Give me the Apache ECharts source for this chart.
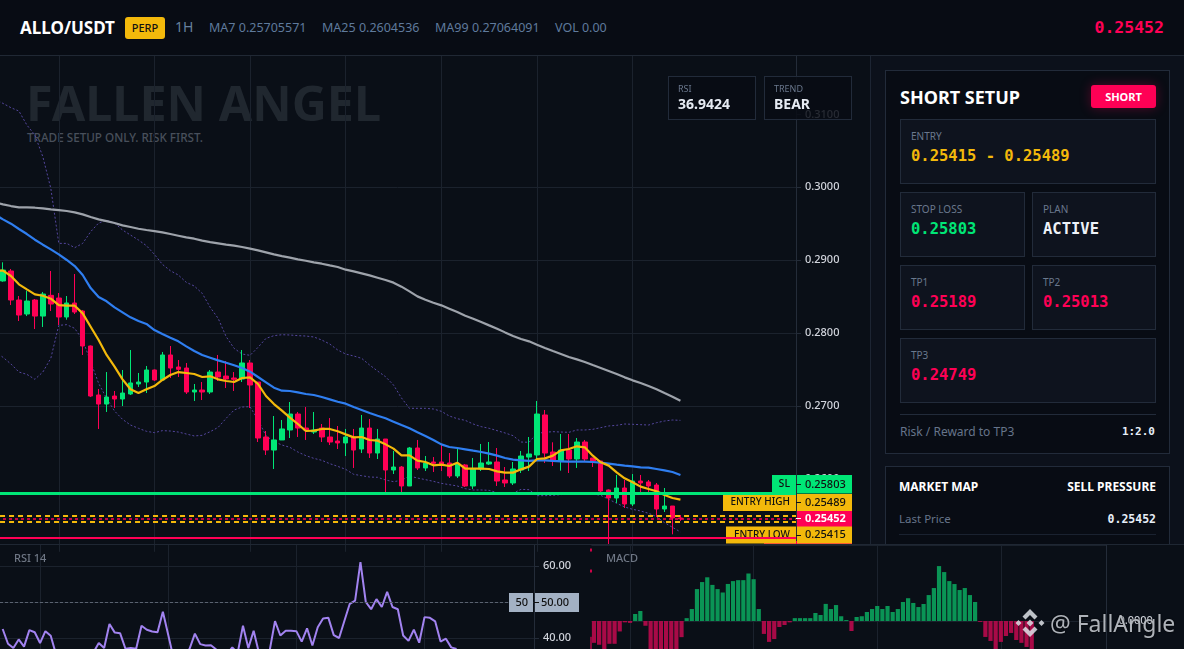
<!DOCTYPE html>
<html><head><meta charset="utf-8">
<script src="https://cdn.jsdelivr.net/npm/echarts@6/dist/echarts.min.js"></script>
<style>
*{box-sizing:border-box}
html,body{margin:0;padding:0;width:1184px;height:649px;overflow:hidden;background:#0a0f17;font-family:"Noto Sans",sans-serif}
.abs{position:absolute}
#chart{position:absolute;left:0;top:0;width:1184px;height:649px;z-index:2}
#wm{position:absolute;left:26px;top:68px;font-size:48.5px;font-weight:700;color:#20272f;z-index:1;line-height:68px;white-space:nowrap}
#wm2{position:absolute;left:27px;top:129px;font-size:11.7px;font-weight:500;color:#484f5b;z-index:1;white-space:nowrap;line-height:16px}
#top{position:absolute;left:0;top:0;width:1184px;height:56px;background:#080c14;border-bottom:1px solid #202834;z-index:3}
#top span{position:absolute;white-space:nowrap;line-height:20px}
#side{position:absolute;left:870px;top:56px;width:314px;height:488px;background:#0c111b;border-left:1px solid #1d2533;z-index:3;overflow:hidden}
.card{position:absolute;background:#0e131e;border:1px solid #222b3a}
.outer{position:absolute;left:14px;width:285px;background:#080c14;border:1px solid #222b3a}
.t{position:absolute;white-space:nowrap;line-height:16px}
.lbl{font-size:10px;color:#6a788d;left:10px;top:8px}
.val{font-family:"DejaVu Sans Mono",monospace;font-weight:700;font-size:15.5px;left:10px;top:27px;line-height:18px}
.stat{position:absolute;top:76px;width:88px;height:44px;background:rgba(8,12,20,.85);border:1px solid #222b3a;z-index:3}
#bw{position:absolute;left:1016px;top:608px;z-index:4;width:160px;height:34px}
</style></head><body>
<div id="wm">FALLEN ANGEL</div>
<div id="wm2">TRADE SETUP ONLY. RISK FIRST.</div>
<div id="chart"></div>
<div id="top">
<span style="left:20px;top:18px;font-size:17px;font-weight:700;color:#fff">ALLO/USDT</span>
<span style="left:125px;top:17px;width:40px;height:22px;background:#f3b90b;border-radius:3px;color:#111;font-size:11px;font-weight:500;text-align:center;line-height:22px">PERP</span>
<span style="left:175px;top:17px;font-size:14px;color:#66809c">1H</span>
<span style="left:209px;top:18px;font-size:12.5px;color:#5f7a9c">MA7 0.25705571</span>
<span style="left:322px;top:18px;font-size:12.5px;color:#5f7a9c">MA25 0.2604536</span>
<span style="left:435px;top:18px;font-size:12.5px;color:#5f7a9c">MA99 0.27064091</span>
<span style="left:555px;top:18px;font-size:12.5px;color:#5f7a9c">VOL 0.00</span>
<span style="right:20px;top:18px;font-size:16.5px;font-weight:700;color:#ff0055;font-family:'DejaVu Sans Mono',monospace">0.25452</span>
</div>
<div class="stat" style="left:668px"><span class="t" style="left:9px;top:4px;font-size:9px;color:#6a788d">RSI</span><span class="t" style="left:9px;top:19px;font-size:14px;font-weight:700;color:#e6ebf3">36.9424</span></div>
<div class="stat" style="left:764px"><span class="t" style="left:9px;top:4px;font-size:9px;color:#6a788d">TREND</span><span class="t" style="left:9px;top:19px;font-size:14px;font-weight:700;color:#e6ebf3">BEAR</span></div>
<div id="side">
 <div class="outer" style="top:14px;height:384px">
  <span class="t" style="left:14px;top:16px;font-size:18px;font-weight:700;color:#fff;line-height:20px">SHORT SETUP</span>
  <span class="t" style="left:205px;top:14px;width:65px;height:23px;background:#ff0055;border-radius:3px;color:#fff;font-size:11px;font-weight:700;text-align:center;line-height:23px;box-shadow:0 0 12px rgba(255,0,85,.3)">SHORT</span>
  <div class="card" style="left:14px;top:48px;width:256px;height:65px"><span class="t lbl">ENTRY</span><span class="t val" style="color:#f3b90b">0.25415 - 0.25489</span></div>
  <div class="card" style="left:14px;top:121px;width:125px;height:65px"><span class="t lbl">STOP LOSS</span><span class="t val" style="color:#00e676">0.25803</span></div>
  <div class="card" style="left:146px;top:121px;width:124px;height:65px"><span class="t lbl">PLAN</span><span class="t val" style="color:#eef2f8">ACTIVE</span></div>
  <div class="card" style="left:14px;top:194px;width:125px;height:65px"><span class="t lbl">TP1</span><span class="t val" style="color:#ff0055">0.25189</span></div>
  <div class="card" style="left:146px;top:194px;width:124px;height:65px"><span class="t lbl">TP2</span><span class="t val" style="color:#ff0055">0.25013</span></div>
  <div class="card" style="left:14px;top:267px;width:256px;height:65px"><span class="t lbl">TP3</span><span class="t val" style="color:#ff0055">0.24749</span></div>
  <div class="abs" style="left:14px;top:343px;width:256px;height:1px;background:#222b3a"></div>
  <span class="t" style="left:14px;top:353px;font-size:12px;color:#66748a">Risk / Reward to TP3</span>
  <span class="t" style="right:14px;top:353px;font-size:11px;font-weight:700;color:#e6eef8;font-family:'DejaVu Sans Mono',monospace">1:2.0</span>
 </div>
 <div class="outer" style="top:410px;height:120px">
  <span class="t" style="left:13px;top:12px;font-size:12px;font-weight:700;color:#fff">MARKET MAP</span>
  <span class="t" style="right:13px;top:12px;font-size:12px;font-weight:700;color:#fff">SELL PRESSURE</span>
  <span class="t" style="left:13px;top:44px;font-size:11.5px;color:#66748a">Last Price</span>
  <span class="t" style="right:13px;top:44px;font-size:11.5px;font-weight:700;color:#e6eef8;font-family:'DejaVu Sans Mono',monospace">0.25452</span>
  <div class="abs" style="left:13px;top:67px;width:257px;height:1px;background:#1a2230"></div>
 </div>
</div>
<div id="bw">
<svg width="28" height="28" viewBox="0 0 28 28" style="position:absolute;left:0;top:1px;opacity:.85;overflow:visible" fill="#dfe2e8">
<path d="M14 0l7.5 7.5-3 3L14 6l-4.5 4.5-3-3z"/><path d="M14 28l7.5-7.5-3-3L14 22l-4.5-4.5-3 3z"/>
<path d="M2.5 11l3 3-3 3-3-3z"/><path d="M25.5 11l3 3-3 3-3-3z"/><path d="M14 10.5l3.5 3.5-3.5 3.5-3.5-3.5z"/>
</svg>
<span style="position:absolute;left:34px;top:-1px;font-size:23px;color:rgba(205,209,216,.85);line-height:32px;white-space:nowrap;text-shadow:0 0 2px #000">@ FallAngle</span>
</div>
<script>
const priceSlots = 101, paneSlots = 100;
const candleOHLC = [
['-','-','-','-'],
[.28715,.28865,.28705,.28971],[.28852,.28454,.28385,.28879],[.28454,.28248,.28166,.28509],[.28262,.28440,.28234,.28582],
[.28454,.28234,.28056,.28468],[.28234,.28536,.28084,.28564],[.28518,.28399,.28303,.28852],[.28481,.28221,.28111,.28550],
[.28221,.28413,.28184,.28509],[.28413,.28289,.28262,.28811],[.28303,.27823,.27700,.28317],[.27823,.27137,.27123,.27830],
[.27151,.27027,.26685,.27233],[.27027,.27123,.26918,.27466],[.27137,.27096,.26973,.27206],[.27096,.27178,.27000,.27494],
[.27165,.27316,.27151,.27768],[.27302,.27329,.27261,.27453],[.27329,.27494,.27178,.27549],[.27494,.27357,.27343,.27500],
[.27357,.27700,.27343,.27741],[.27700,.27521,.27384,.27823],[.27535,.27503,.27398,.27631],[.27521,.27192,.27165,.27590],
[.27192,.27219,.27069,.27302],[.27219,.27192,.27082,.27329],[.27192,.27466,.27165,.27494],[.27466,.27398,.27343,.27700],
[.27411,.27370,.27247,.27617],[.27384,.27366,.27206,.27466],[.27370,.27590,.27329,.27768],[.27590,.27288,.26973,.27631],
[.27329,.26561,.26506,.27329],[.26575,.26396,.26328,.26657],[.26396,.26534,.26136,.26863],[.26534,.26685,.26534,.26808],
[.26671,.26890,.26561,.27055],[.26890,.26698,.26575,.26918],[.26698,.26671,.26534,.26986],[.26643,.26671,.26616,.26918],
[.26698,.26575,.26506,.26753],[.26575,.26506,.26465,.26835],[.26520,.26493,.26410,.26726],[.26493,.26575,.26314,.26685],
[.26575,.26396,.26150,.26685],[.26410,.26698,.26355,.26877],[.26698,.26355,.26287,.26822],[.26355,.26547,.26273,.26685],
[.26547,.26122,.25820,.26547],[.26122,.26163,.26067,.26383],[.26163,.25903,.25807,.26177],[.25903,.26424,.25903,.26438],
[.26424,.26150,.26122,.26534],[.26150,.26218,.26108,.26314],[.26232,.26214,.26095,.26300],[.26232,.26191,.26108,.26479],
[.26218,.26040,.26012,.26355],[.26040,.26204,.26012,.26410],[.26191,.25903,.25889,.26204],[.25903,.26136,.25862,.26287],
[.26136,.26218,.26108,.26479],[.26204,.26232,.26191,.26506],[.26232,.25971,.25903,.26424],[.25985,.25944,.25889,.26163],
[.25944,.26136,.25916,.26232],[.26122,.26314,.26081,.26383],[.26300,.26342,.26108,.26575],[.26328,.26890,.26259,.27069],
[.26877,.26355,.26218,.26945],[.26369,.26246,.26177,.26502],[.26246,.26396,.26113,.26616],[.26396,.26273,.26081,.26616],
[.26273,.26506,.26150,.26561],[.26506,.26273,.26246,.26534],[.26287,.26246,.26163,.26287],[.26246,.25834,.25779,.26246],
[.25848,.25738,.25107,.25857],[.25738,.25875,.25670,.26054],[.25875,.25656,.25601,.25985],[.25656,.25971,.25628,.26067],
[.25971,.25944,.25779,.26054],[.25958,.25903,.25779,.25985],[.25916,.25587,.25477,.25944],[.25587,.25628,.25546,.25875],
[.25628,.25464,.25240,.25628],[.25464,.25452,.25423,.25505]];
const ma7 = [.28860,.28856,.28783,.28669,.28600,.28532,.28513,.28472,.28385,.28376,.28376,.28271,.28088,.27905,.27700,.27540,.27366,.27229,.27178,.27229,.27274,.27357,.27425,.27466,.27453,.27439,.27398,.27407,.27366,.27343,.27329,.27384,.27393,.27302,.27137,.27027,.26936,.26840,.26753,.26657,.26662,.26685,.26685,.26653,.26611,.26570,.26575,.26534,.26525,.26474,.26415,.26323,.26323,.26250,.26232,.26186,.26195,.26177,.26223,.26140,.26140,.26140,.26136,.26104,.26086,.26086,.26131,.26168,.26273,.26282,.26319,.26392,.26410,.26447,.26433,.26319,.26227,.26182,.26090,.26008,.25953,.25894,.25862,.25830,.25779,.25738,.25715];
const ma25 = [.29625,.29560,.29501,.29428,.29359,.29281,.29213,.29149,.29080,.29003,.28920,.28797,.28618,.28495,.28436,.28353,.28285,.28216,.28166,.28125,.28042,.27988,.27937,.27887,.27818,.27754,.27700,.27663,.27626,.27594,.27558,.27521,.27471,.27398,.27325,.27251,.27210,.27206,.27187,.27165,.27151,.27123,.27091,.27059,.27032,.26986,.26945,.26904,.26867,.26831,.26785,.26739,.26694,.26639,.26589,.26534,.26474,.26438,.26424,.26406,.26387,.26369,.26346,.26319,.26287,.26264,.26255,.26246,.26255,.26255,.26246,.26241,.26236,.26236,.26236,.26232,.26223,.26209,.26195,.26182,.26172,.26159,.26154,.26136,.26118,.26095,.26054];
const ma99 = [.29790,.29766,.29743,.29725,.29725,.29720,.29711,.29697,.29688,.29675,.29656,.29629,.29592,.29560,.29537,.29510,.29478,.29455,.29432,.29414,.29400,.29382,.29359,.29336,.29313,.29295,.29268,.29249,.29231,.29213,.29199,.29181,.29158,.29135,.29108,.29080,.29057,.29035,.29012,.28993,.28971,.28952,.28929,.28907,.28870,.28847,.28820,.28792,.28760,.28728,.28692,.28637,.28573,.28504,.28458,.28417,.28381,.28335,.28289,.28239,.28198,.28152,.28106,.28061,.28010,.27960,.27919,.27887,.27841,.27796,.27754,.27713,.27672,.27640,.27604,.27562,.27521,.27480,.27439,.27393,.27352,.27315,.27274,.27229,.27178,.27128,.27073];
const bbUpper = [.31210,.31151,.31092,.31046,.30854,.30717,.30420,.29986,.29231,.29231,.29172,.29231,.29391,.29510,.29547,.29510,.29414,.29345,.29277,.29199,.29080,.28943,.28856,.28797,.28696,.28646,.28545,.28353,.28202,.27951,.27791,.27713,.27695,.27805,.27928,.27965,.27978,.27974,.27965,.27960,.27947,.27905,.27850,.27768,.27713,.27686,.27654,.27562,.27480,.27402,.27288,.27110,.26968,.26968,.26968,.26959,.26927,.26863,.26826,.26803,.26753,.26717,.26694,.26662,.26630,.26593,.26506,.26502,.26625,.26639,.26648,.26643,.26639,.26671,.26671,.26680,.26703,.26726,.26735,.26753,.26749,.26744,.26739,.26771,.26794,.26808,.26803];
const bbLower = [.27745,.27668,.27576,.27466,.27434,.27366,.27466,.27654,.28106,.28116,.28065,.27905,.27608,.27311,.27105,.26931,.26817,.26739,.26694,.26653,.26634,.26662,.26657,.26643,.26616,.26589,.26598,.26648,.26707,.26831,.26945,.26986,.26991,.26808,.26593,.26511,.26465,.26433,.26369,.26319,.26282,.26255,.26209,.26172,.26131,.26063,.26044,.26026,.26022,.25985,.25962,.25980,.26040,.26012,.25990,.25967,.25939,.25921,.25903,.25866,.25848,.25848,.25843,.25811,.25802,.25802,.25857,.25852,.25770,.25770,.25775,.25784,.25793,.25793,.25798,.25793,.25775,.25720,.25665,.25615,.25583,.25560,.25528,.25482,.25400,.25336,.25272];
const rsiValues = [42.5,38.4,37.2,39.6,37.6,42.2,41.6,38.6,41.9,40.6,35.4,34,33,32.5,33,34.5,35,36,38.6,37.2,43.9,41.5,41.3,37,37.2,37,43.4,42.3,41.8,41.6,47.3,40.9,34.4,33,34,37,41.2,38.3,37.9,38,36.8,36,35.5,37.4,35.8,43.4,37.2,42,35.8,35.4,36.5,44.7,40.7,42,42,41.9,39,42.7,37.9,43,45.4,45.6,40.8,40,44.8,49.5,50.4,61.1,50,48,50.8,48.6,52.8,48.6,48,40.7,39.2,42.3,38.7,45.8,45.6,44.6,39,39.8,37.4,36.94];
const macdHist = [-23,-25,-32,-24,-24,-11,-1.4,-2,7.4,10.5,-5,-35,-38,-37,-38,-40,-35,-17,3,12.6,33.6,41,46,38,33.6,30,39,42,43,43,50,44,12.6,-13.6,-22,-19,-6.3,-4.2,-1.4,3,3,3,3,8.4,6.3,18,12.6,16.8,5,1,-10.5,4.2,5,9.5,12.6,15.8,12.6,15.8,9.5,12.6,20,24,19,14.7,17.9,27.3,34.7,57.8,51.5,42,38.9,32.6,34.7,27.3,20,-1,-16.8,-21,-31.5,-22,-15.8,-12.6,-20,-23,-27.3,-29.8];
const macdStrayMarks = [[0,74.7],[0,52.6]];
const macdStrayBar = [[0,-24]];
const priceTimeTicks = [8,20,32,44,56,68,80];
const paneTimeTicks = [7,31,55,79];
const priceTicks = [0.26,0.27,0.28,0.29,0.30,0.31];
const levelSL = 0.25803, levelEntryHigh = 0.25489, levelEntryLow = 0.25415, levelLast = 0.25452, levelTP1 = 0.25189;
const RED='#ff0055', GREEN='#00e676', YEL='#f3b90b';
const priceCats = Array.from({length:priceSlots},(_,i)=>String(i));
const paneCats = Array.from({length:paneSlots},(_,i)=>String(i));
const GL='#1b222d', AXC='#d1d4dc';
function xa(g,cats){return {type:'category',gridIndex:g,data:cats,boundaryGap:true,axisLine:{show:false},axisTick:{show:false},axisLabel:{show:false},splitLine:{show:false}};}
function vlines(g,ticks){return {type:'line',xAxisIndex:g,yAxisIndex:g,data:[],z:1,silent:true,showSymbol:false,
  markLine:{z:1,silent:true,symbol:'none',animation:false,label:{show:false},lineStyle:{color:GL,width:1,type:'solid'},data:ticks.map(t=>({xAxis:t}))}};}
const tag=(x,y,w,h,fill)=>({type:'rect',shape:{x,y,width:w,height:h},style:{fill},z:50,silent:true});
const txt=(x,y,t,c,align,w,s)=>({type:'text',x,y,style:{text:t,fill:c,font:(w||500)+' '+(s||11)+'px "Noto Sans"',align:align||'left',verticalAlign:'middle'},z:51,silent:true});
const chart=echarts.init(document.getElementById('chart'),null,{renderer:'canvas'});
chart.setOption({
 animation:false,backgroundColor:'transparent',
 grid:[
  {left:-8.97,top:55,width:804.97,height:496.8,outerBoundsMode:'none'},
  {left:0,top:544.4,width:534,height:129.6,outerBoundsMode:'none'},
  {left:591.4,top:545,width:515,height:152,outerBoundsMode:'none'}
 ],
 xAxis:[xa(0,priceCats),xa(1,paneCats),xa(2,paneCats)],
 yAxis:[
  {type:'value',gridIndex:0,position:'right',min:0.25,max:0.31815,interval:0.01,
   axisLine:{show:false},
   axisTick:{show:true,length:5,customValues:priceTicks,lineStyle:{color:'#242c39'}},
   axisLabel:{color:AXC,fontSize:11,fontWeight:500,fontFamily:'Noto Sans',margin:9,padding:[2,0,0,0],customValues:priceTicks,formatter:v=>v.toFixed(4)},
   splitLine:{show:true,showMinLine:false,showMaxLine:false,lineStyle:{color:GL,width:1}}},
  {type:'value',gridIndex:1,position:'right',min:30,max:66,interval:10,
   axisLine:{show:true,lineStyle:{color:'#242c39'}},axisTick:{show:true,length:5,lineStyle:{color:'#242c39'}},
   axisLabel:{color:AXC,fontSize:11,fontWeight:500,fontFamily:'Noto Sans',margin:9,padding:[2,0,0,0],showMaxLabel:false,formatter:v=>v.toFixed(2)},
   splitLine:{show:true,lineStyle:{color:GL,width:1}}},
  {type:'value',gridIndex:2,position:'right',min:-80,max:80,interval:80,
   axisLine:{show:true,lineStyle:{color:'#242c39'}},axisTick:{show:false},
   axisLabel:{color:AXC,fontSize:11,fontWeight:500,fontFamily:'Noto Sans',margin:12,formatter:v=>v===0?(v/1e5).toFixed(4):''},
   splitLine:{show:true,lineStyle:{color:GL,width:1}}}
 ],
 series:[
  vlines(0,priceTimeTicks),vlines(1,paneTimeTicks),vlines(2,paneTimeTicks),
  {name:'BB Upper',type:'line',data:bbUpper,showSymbol:false,z:2,lineStyle:{color:'#55479f',width:1,type:[2,2]}},
  {name:'BB Lower',type:'line',data:bbLower,showSymbol:false,z:2,lineStyle:{color:'#55479f',width:1,type:[2,2]}},
  {name:'Candles',type:'candlestick',data:candleOHLC,barWidth:5,z:3,
   itemStyle:{color:GREEN,color0:RED,borderColor:GREEN,borderColor0:RED,borderWidth:1}},
  {name:'MA99',type:'line',data:ma99,showSymbol:false,z:4,lineStyle:{color:'#9ea3ab',width:2.2}},
  {name:'MA25',type:'line',data:ma25,showSymbol:false,z:4,lineStyle:{color:'#2f7ef0',width:2.2}},
  {name:'MA7',type:'line',data:ma7,showSymbol:false,z:4,lineStyle:{color:YEL,width:2.2}},
  {name:'Levels',type:'line',data:[],z:60,silent:true,markLine:{z:60,precision:5,silent:true,symbol:'none',animation:false,label:{show:false},data:[
    {yAxis:levelSL,lineStyle:{color:GREEN,width:3,type:'solid'}},
    {yAxis:levelEntryHigh,lineStyle:{color:YEL,width:2,type:[5,4]}},
    {yAxis:levelEntryLow,lineStyle:{color:YEL,width:2,type:[5,4]}},
    {yAxis:levelLast,lineStyle:{color:RED,width:1.5,type:[3,3]}},
    {yAxis:levelTP1,lineStyle:{color:RED,width:2,type:'solid'}}
  ]}},
  {name:'RSI',type:'line',xAxisIndex:1,yAxisIndex:1,data:rsiValues,showSymbol:false,z:4,lineStyle:{color:'#a283f0',width:2},
   markLine:{silent:true,symbol:'none',animation:false,label:{show:false},lineStyle:{color:'#5a6270',width:1,type:[3,2]},data:[{yAxis:50}]}},
  {name:'MACD',type:'bar',xAxisIndex:2,yAxisIndex:2,data:macdHist,barWidth:4.2,z:3,
   itemStyle:{color:p=>p.value>=0?'#0a9455':'#a80a47'}},
  {name:'MACD marks',type:'scatter',xAxisIndex:2,yAxisIndex:2,data:macdStrayMarks,clip:false,symbol:'rect',symbolSize:[2,3],symbolOffset:[-3,0],z:3,itemStyle:{color:RED}},
  {name:'MACD edge',type:'scatter',xAxisIndex:2,yAxisIndex:2,data:macdStrayBar,clip:false,symbol:'rect',symbolSize:[2,14],symbolOffset:[-3,0],z:3,itemStyle:{color:'#a80a47'}}
 ],
 graphic:[
  {type:'rect',shape:{x:0,y:544,width:1184,height:1},style:{fill:'#1f2733'},z:49,silent:true},
  {type:'rect',shape:{x:796,y:55,width:1,height:489},style:{fill:'#242c39'},z:49,silent:true},
  tag(764,541,88,3,RED),
  tag(772,475,24,18.5,GREEN),tag(797,475,55,18.5,GREEN),txt(790,484.5,'SL','#111','right',500,10.5),txt(805,484.5,levelSL.toFixed(5),'#111'),
  tag(723,494,73,17,YEL),tag(797,494,55,17,YEL),txt(790,502.5,'ENTRY HIGH','#111','right',500,10),txt(805,502.5,levelEntryHigh.toFixed(5),'#111'),
  tag(797,511,55,16,RED),txt(805,519,levelLast.toFixed(5),'#fff','left',700),
  tag(726,526.5,70,17,YEL),tag(797,526.5,55,17,YEL),txt(790,535,'ENTRY LOW','#111','right',500,10),txt(805,535,levelEntryLow.toFixed(5),'#111'),
  tag(796,484,5,1,'#111'),tag(796,502,5,1,'#111'),tag(796,518,5,1,'#fff'),tag(796,535,5,1,'#111'),
  tag(509,593,24,19,'#a3b1c4'),tag(535,593,44,19,'#a3b1c4'),txt(528,602.5,'50','#111','right'),txt(541,602.5,'50.00','#111'),tag(534,602,5,1,'#111'),
  {type:'text',x:14,y:559,style:{text:'RSI 14',fill:'#6f7785',font:'500 11px "Noto Sans"',verticalAlign:'middle'},z:51,silent:true},
  {type:'text',x:606,y:559,style:{text:'MACD',fill:'#6f7785',font:'500 11px "Noto Sans"',verticalAlign:'middle'},z:51,silent:true}
 ]
});
</script>
</body></html>
